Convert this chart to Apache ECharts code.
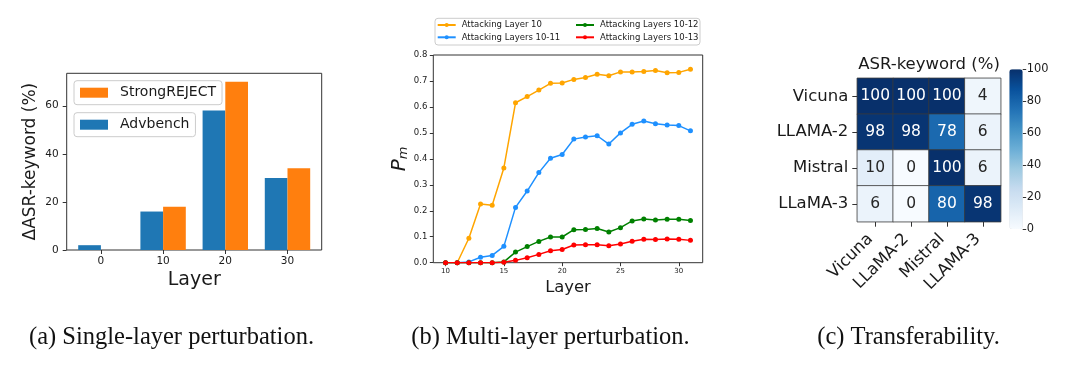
<!DOCTYPE html>
<html>
<head>
<meta charset="utf-8">
<script src="https://cdn.jsdelivr.net/npm/echarts@6/dist/echarts.min.js"></script>
<style>
html,body{margin:0;padding:0;background:#fff;}
#c{width:1080px;height:368px;}
</style>
</head>
<body>
<div id="c"></div>
<script>
// ---------- Panel (a): single-layer perturbation ----------
const barLayers = [0, 10, 20, 30];
const advbench = [2, 16, 58, 30];
const strongReject = [0, 18, 70, 34];
const barXTicks = [0, 10, 20, 30];
const barYTicks = [0, 20, 40, 60];

// ---------- Panel (b): multi-layer perturbation ----------
const pmLayers = [10, 11, 12, 13, 14, 15, 16, 17, 18, 19, 20, 21, 22, 23, 24, 25, 26, 27, 28, 29, 30, 31];
const attack10 = [0, 0, 0.094, 0.226, 0.221, 0.365, 0.616, 0.640, 0.665, 0.691, 0.692, 0.706, 0.713, 0.726, 0.720, 0.735, 0.735, 0.736, 0.740, 0.732, 0.733, 0.745];
const attack10_11 = [0, 0, 0.003, 0.021, 0.028, 0.063, 0.213, 0.276, 0.347, 0.402, 0.417, 0.476, 0.484, 0.489, 0.457, 0.500, 0.533, 0.546, 0.535, 0.530, 0.528, 0.508];
const attack10_12 = [0, 0, 0, 0, 0, 0.003, 0.041, 0.062, 0.082, 0.099, 0.099, 0.127, 0.128, 0.132, 0.118, 0.135, 0.161, 0.168, 0.164, 0.167, 0.167, 0.163];
const attack10_13 = [0, 0, 0, 0, 0, 0.002, 0.009, 0.019, 0.032, 0.046, 0.051, 0.068, 0.069, 0.069, 0.065, 0.072, 0.083, 0.090, 0.089, 0.091, 0.090, 0.086];
const pmXTicks = [10, 15, 20, 25, 30];
const pmNames = ['Attacking Layer 10', 'Attacking Layers 10-11', 'Attacking Layers 10-12', 'Attacking Layers 10-13'];

// ---------- Panel (c): transferability ----------
const sourceModels = ['Vicuna', 'LLaMA-2', 'Mistral', 'LLAMA-3'];   // columns
const targetModels = ['Vicuna', 'LLAMA-2', 'Mistral', 'LLaMA-3'];   // rows
const asrKeyword = [
  [100, 100, 100, 4],
  [98, 98, 78, 6],
  [10, 0, 100, 6],
  [6, 0, 80, 98]
];
const colorbarTicks = [0, 20, 40, 60, 80, 100];

const captions = ['(a) Single-layer perturbation.', '(b) Multi-layer perturbation.', '(c) Transferability.'];

// ---------------------------------------------------------------
const FONT = 'DejaVu Sans';
const TXT = '#1a1a1a';
const AX = '#333';
const blues = ['#f7fbff', '#deebf7', '#c6dbef', '#9ecae1', '#6baed6', '#4292c6', '#2171b5', '#08519c', '#08306b'];
const lineColors = ['#FFA500', '#1E90FF', '#008000', '#FF0000'];

const heatData = [];
asrKeyword.forEach((row, r) => row.forEach((v, c) => {
  heatData.push({ value: [c, r, v], label: { color: v > 50 ? '#ffffff' : '#262626' } });
}));

const pmSeries = [attack10, attack10_11, attack10_12, attack10_13].map((arr, i) => ({
  name: pmNames[i], type: 'line', xAxisIndex: 1, yAxisIndex: 1,
  data: pmLayers.map((x, k) => [x, arr[k]]),
  symbol: 'circle', symbolSize: 5, showSymbol: true,
  lineStyle: { color: lineColors[i], width: 1.5 },
  itemStyle: { color: lineColors[i] },
  z: 3 + i
}));

const noLine = { show: false, onZero: false };

const chart = echarts.init(document.getElementById('c'), null, { renderer: 'canvas' });
const option = {
  animation: false,
  backgroundColor: '#ffffff',
  textStyle: { fontFamily: FONT },
  grid: [
    { left: 66.7, top: 73.3, width: 255, height: 176.7, show: true, borderColor: AX, borderWidth: 1, containLabel: false },
    { left: 433.3, top: 55, width: 269.4, height: 207.7, show: true, borderColor: AX, borderWidth: 1, containLabel: false },
    { left: 857.3, top: 78.3, width: 143.4, height: 143.4, containLabel: false },
    { left: 1009.3, top: 69.3, width: 13.4, height: 159.7, containLabel: false }
  ],
  xAxis: [
    { gridIndex: 0, type: 'value', min: -5.5, max: 35.5,
      axisLine: noLine, splitLine: { show: false },
      axisTick: { show: true, length: 4, lineStyle: { color: AX }, customValues: barXTicks },
      axisLabel: { fontSize: 10.5, color: TXT, margin: 6, fontFamily: FONT, customValues: barXTicks },
      name: 'Layer', nameLocation: 'middle', nameGap: 21,
      nameTextStyle: { fontSize: 19, color: TXT, fontFamily: FONT } },
    { gridIndex: 1, type: 'value', min: 8.95, max: 32.05,
      axisLine: noLine, splitLine: { show: false },
      axisTick: { show: true, length: 3.5, lineStyle: { color: AX }, customValues: pmXTicks },
      axisLabel: { fontSize: 7, color: TXT, margin: 5, fontFamily: FONT, customValues: pmXTicks },
      name: 'Layer', nameLocation: 'middle', nameGap: 14,
      nameTextStyle: { fontSize: 16.4, color: TXT, fontFamily: FONT } },
    { gridIndex: 2, type: 'category', data: sourceModels,
      axisLine: noLine, splitLine: { show: false },
      axisTick: { show: true, alignWithLabel: true, length: 5, lineStyle: { color: AX } },
      axisLabel: { interval: 0, rotate: 45, fontSize: 16.5, color: TXT, margin: 10, padding: [0, 7, 0, 0], fontFamily: FONT } },
    { gridIndex: 3, type: 'value', show: false, min: 0, max: 1 }
  ],
  yAxis: [
    { gridIndex: 0, type: 'value', min: 0, max: 73.5,
      axisLine: noLine, splitLine: { show: false },
      axisTick: { show: true, length: 4, lineStyle: { color: AX }, customValues: barYTicks },
      axisLabel: { fontSize: 10.5, color: TXT, margin: 8, fontFamily: FONT, customValues: barYTicks },
      name: '\u0394ASR-keyword (%)', nameLocation: 'middle', nameGap: 28,
      nameTextStyle: { fontSize: 17, color: TXT, fontFamily: FONT } },
    { gridIndex: 1, type: 'value', min: 0, max: 0.8, interval: 0.1,
      axisLine: noLine, splitLine: { show: false },
      axisTick: { show: true, length: 3.5, lineStyle: { color: AX } },
      axisLabel: { fontSize: 8.5, color: TXT, margin: 6, fontFamily: FONT, formatter: v => v.toFixed(1) },
      name: '{p|P}{m|m}', nameLocation: 'middle', nameGap: 23,
      nameTextStyle: { color: TXT, fontFamily: FONT,
        rich: { p: { fontSize: 20, fontStyle: 'italic', color: TXT, fontFamily: FONT },
                m: { fontSize: 13, fontStyle: 'italic', color: TXT, fontFamily: FONT, verticalAlign: 'bottom', padding: [7, 0, 0, 0] } } } },
    { gridIndex: 2, type: 'category', data: targetModels, inverse: true,
      axisLine: noLine, splitLine: { show: false },
      axisTick: { show: true, alignWithLabel: true, length: 5, lineStyle: { color: AX } },
      axisLabel: { interval: 0, fontSize: 16.5, color: TXT, margin: 9, fontFamily: FONT } },
    { gridIndex: 3, type: 'value', position: 'right', min: 0, max: 100, interval: 20,
      axisLine: noLine, splitLine: { show: false },
      axisTick: { show: true, length: 3.5, lineStyle: { color: AX } },
      axisLabel: { fontSize: 11.4, color: TXT, margin: 4, fontFamily: FONT } }
  ],
  legend: [
    { data: ['StrongREJECT'], left: 74, top: 80.7, orient: 'vertical', icon: 'rect',
      itemWidth: 28, itemHeight: 10, padding: [5, 6, 5, 6],
      borderColor: '#cccccc', borderWidth: 1, borderRadius: 3, backgroundColor: '#ffffff',
      textStyle: { fontSize: 14, color: TXT, fontFamily: FONT, lineHeight: 14, padding: [0, 0, 0, 7] },
      selectedMode: false },
    { data: ['Advbench'], left: 74, top: 112.7, orient: 'vertical', icon: 'rect',
      itemWidth: 28, itemHeight: 10, padding: [5, 6, 5, 6],
      borderColor: '#cccccc', borderWidth: 1, borderRadius: 3, backgroundColor: '#ffffff',
      textStyle: { fontSize: 14, color: TXT, fontFamily: FONT, lineHeight: 14, padding: [0, 0, 0, 7] },
      selectedMode: false },
    { data: [pmNames[0], pmNames[1]], left: 436.7, top: 20, orient: 'vertical',
      itemWidth: 18, itemHeight: 5, itemGap: 2.3, padding: 0,
      textStyle: { fontSize: 8.5, color: TXT, fontFamily: FONT, lineHeight: 10, padding: [0, 0, 0, 1] },
      selectedMode: false },
    { data: [pmNames[2], pmNames[3]], left: 575, top: 20, orient: 'vertical',
      itemWidth: 18, itemHeight: 5, itemGap: 2.3, padding: 0,
      textStyle: { fontSize: 8.5, color: TXT, fontFamily: FONT, lineHeight: 10, padding: [0, 0, 0, 1] },
      selectedMode: false }
  ],
  visualMap: {
    type: 'continuous', min: 0, max: 100, calculable: false, orient: 'vertical',
    left: 1009.3, top: 69.3, itemWidth: 13.4, itemHeight: 159.7, padding: 0,
    seriesIndex: 6, inRange: { color: blues }, text: null, hoverLink: false
  },
  graphic: [
    { type: 'rect', z: 1, shape: { x: 435, y: 18.3, width: 265, height: 26.7, r: 3 },
      style: { fill: '#ffffff', stroke: '#cccccc', lineWidth: 1 } },
    { type: 'text', x: 929, y: 65, style: { text: 'ASR-keyword (%)', align: 'center', verticalAlign: 'middle', fontSize: 16.5, fill: TXT, fontFamily: FONT } },
    { type: 'text', x: 171.5, y: 338, style: { text: captions[0], align: 'center', verticalAlign: 'middle', fontSize: 24.5, fill: '#111', fontFamily: 'Liberation Serif' } },
    { type: 'text', x: 550.5, y: 338, style: { text: captions[1], align: 'center', verticalAlign: 'middle', fontSize: 24.5, fill: '#111', fontFamily: 'Liberation Serif' } },
    { type: 'text', x: 908.5, y: 338, style: { text: captions[2], align: 'center', verticalAlign: 'middle', fontSize: 24.5, fill: '#111', fontFamily: 'Liberation Serif' } }
  ],
  series: [
    { name: 'Advbench', type: 'bar', xAxisIndex: 0, yAxisIndex: 0,
      data: barLayers.map((x, i) => [x, advbench[i]]),
      barWidth: 22.7, barGap: '0%', itemStyle: { color: '#1f77b4' } },
    { name: 'StrongREJECT', type: 'bar', xAxisIndex: 0, yAxisIndex: 0,
      data: barLayers.map((x, i) => [x, strongReject[i]]),
      barWidth: 22.7, barGap: '0%', itemStyle: { color: '#ff7f0e' } },
    ...pmSeries,
    { name: 'ASR-keyword', type: 'heatmap', xAxisIndex: 2, yAxisIndex: 2,
      data: heatData,
      itemStyle: { borderColor: '#3a3a3a', borderWidth: 0.8 },
      label: { show: true, fontSize: 15.5, fontFamily: FONT, formatter: p => String(p.value[2]) } }
  ]
};
chart.setOption(option);
</script>
</body>
</html>
